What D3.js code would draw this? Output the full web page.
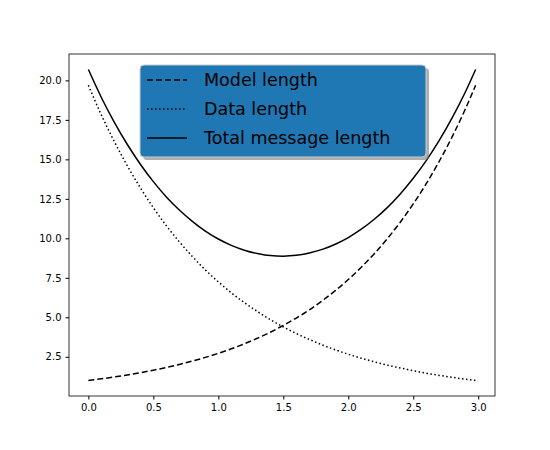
<!DOCTYPE html>
<html><head><meta charset="utf-8">
<script src="https://cdn.jsdelivr.net/npm/d3@7"></script>
<style>body{margin:0;background:#fff}</style></head>
<body><svg id="c" width="550" height="450"></svg>
<script>
const xs = [0,0.1,0.2,0.3,0.4,0.5,0.6,0.7,0.8,0.9,1.0,1.1,1.2,1.3,1.4,1.5,1.6,1.7,1.8,1.9,2.0,2.1,2.2,2.3,2.4,2.5,2.6,2.7,2.8,2.9,2.98];
const modelLength = [1.00,1.105,1.221,1.350,1.492,1.649,1.822,2.014,2.226,2.460,2.718,3.004,3.320,3.669,4.055,4.482,4.953,5.474,6.050,6.686,7.389,8.166,9.025,9.974,11.02,12.18,13.46,14.88,16.44,18.17,19.69];
const dataLength = [19.69,17.81,16.12,14.59,13.20,11.94,10.80,9.78,8.85,8.00,7.24,6.55,5.93,5.37,4.85,4.39,3.97,3.60,3.25,2.94,2.66,2.41,2.18,1.97,1.79,1.62,1.46,1.32,1.20,1.08,1.00];
const totalLength = [20.69,18.915,17.341,15.94,14.692,13.589,12.622,11.794,11.076,10.46,9.958,9.554,9.25,9.039,8.905,8.872,8.923,9.074,9.30,9.626,10.049,10.576,11.205,11.944,12.81,13.80,14.92,16.20,17.64,19.25,20.69];
const xTicks = [0,0.5,1.0,1.5,2.0,2.5,3.0];
const yTicks = [2.5,5.0,7.5,10.0,12.5,15.0,17.5,20.0];
const seriesNames = ["Model length","Data length","Total message length"];

const L=69,R=495,T=54,B=396;
const svg=d3.select("#c");
const x=d3.scaleLinear().domain([-0.149,3.129]).range([L,R]);
const y=d3.scaleLinear().domain([0.016,21.67]).range([B,T]);
const dashes=["6,3","1.5,2.5",null];
const series=[modelLength,dataLength,totalLength];
const line=d3.line().x((d,i)=>x(xs[i])).y(d=>y(d)).curve(d3.curveMonotoneX);
series.forEach((s,k)=>{
  svg.append("path").attr("d",line(s)).attr("fill","none").attr("stroke","#000")
    .attr("stroke-width",1.5).attr("stroke-dasharray",dashes[k]);
});
const gx=svg.append("g").attr("transform",`translate(0,${B})`)
  .call(d3.axisBottom(x).tickValues(xTicks).tickFormat(d3.format(".1f")).tickSizeOuter(0).tickSize(3.5).tickPadding(4));
const gy=svg.append("g").attr("transform",`translate(${L},0)`)
  .call(d3.axisLeft(y).tickValues(yTicks).tickFormat(d3.format(".1f")).tickSizeOuter(0).tickSize(3.5).tickPadding(4));
[gx,gy].forEach(g=>{g.select(".domain").remove();g.selectAll("text").attr("font-family","DejaVu Sans").attr("font-size",10).attr("fill","#000");g.selectAll("line").attr("stroke","#000");});
svg.append("rect").attr("x",L).attr("y",T).attr("width",R-L).attr("height",B-T).attr("fill","none").attr("stroke","#000").attr("stroke-width",0.8);

// legend
const lx=140,ly=65,lw=286,lh=92;
svg.append("rect").attr("x",lx+3).attr("y",ly+3).attr("width",lw).attr("height",lh).attr("rx",4).attr("fill","#777").attr("opacity",0.6);
svg.append("rect").attr("x",lx).attr("y",ly).attr("width",lw).attr("height",lh).attr("rx",4).attr("fill","#1f77b4").attr("stroke","#ccc").attr("stroke-width",1);
seriesNames.forEach((n,k)=>{
  const yy=ly+15+k*29;
  svg.append("line").attr("x1",lx+7).attr("x2",lx+47).attr("y1",yy).attr("y2",yy).attr("stroke","#000").attr("stroke-width",1.5).attr("stroke-dasharray",dashes[k]);
  svg.append("text").attr("x",lx+64).attr("y",yy+6).attr("font-family","DejaVu Sans").attr("font-size",17.5).attr("fill","#000").text(n);
});
</script></body></html>
